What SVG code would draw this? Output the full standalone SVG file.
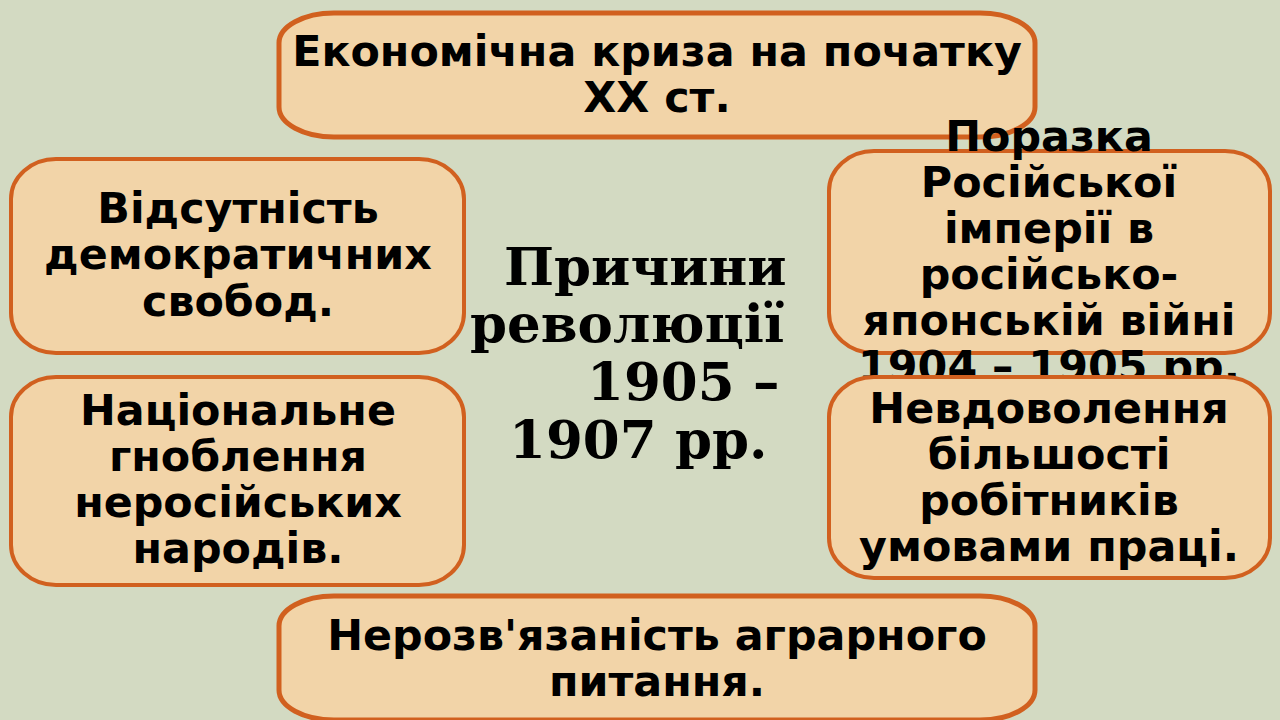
<svg xmlns="http://www.w3.org/2000/svg" width="1280" height="720" viewBox="0 0 1280 720">
<style>
.box{fill:#F2D4A8;stroke:#D1601F;stroke-width:4}
.wide{stroke-width:5}
.t{font-family:"DejaVu Sans","Noto Sans",sans-serif;font-weight:bold;font-size:42.8px;fill:#000;text-anchor:middle}
.s{font-family:"DejaVu Serif","Liberation Serif",serif;font-weight:bold;font-size:53px;fill:#000}
</style>
<rect width="1280" height="720" fill="#D3DAC2"/>
<g id="connectors"></g>
<g id="top">
<rect class="box wide" x="279" y="13" width="756" height="124" rx="55" ry="30"/>
<text class="t" x="657" y="66">Економічна криза на початку</text>
<text class="t" x="657" y="112">XX ст.</text>
</g>
<g id="left1">
<rect class="box" x="11" y="159" width="453" height="194" rx="45" ry="40"/>
<text class="t" x="238" y="223">Відсутність</text>
<text class="t" x="238" y="269">демократичних</text>
<text class="t" x="238" y="316">свобод.</text>
</g>
<g id="left2">
<rect class="box" x="11" y="377" width="453" height="208" rx="45" ry="40"/>
<text class="t" x="238" y="425">Національне</text>
<text class="t" x="238" y="471">гноблення</text>
<text class="t" x="238" y="517">неросійських</text>
<text class="t" x="238" y="563">народів.</text>
</g>
<g id="right1">
<rect class="box" x="829" y="151" width="441" height="202" rx="45" ry="40"/>
<text class="t" x="1049" y="151">Поразка</text>
<text class="t" x="1049" y="197">Російської</text>
<text class="t" x="1049" y="243">імперії в</text>
<text class="t" x="1049" y="289">російсько-</text>
<text class="t" x="1049" y="335">японській війні</text>
<text class="t" x="1049" y="381">1904 – 1905 рр.</text>
</g>
<g id="right2">
<rect class="box" x="829" y="377" width="441" height="201" rx="45" ry="40"/>
<text class="t" x="1049" y="423">Невдоволення</text>
<text class="t" x="1049" y="469">більшості</text>
<text class="t" x="1049" y="515">робітників</text>
<text class="t" x="1049" y="561">умовами праці.</text>
</g>
<g id="bottom">
<rect class="box wide" x="279" y="596" width="756" height="124" rx="55" ry="30"/>
<text class="t" x="657" y="650">Нерозв'язаність аграрного</text>
<text class="t" x="657" y="696">питання.</text>
</g>
<g id="center">
<text class="s" x="504" y="285">Причини</text>
<text class="s" x="470" y="342">революції</text>
<text class="s" x="587" y="400">1905 –</text>
<text class="s" x="509" y="458">1907 рр.</text>
</g>
</svg>
